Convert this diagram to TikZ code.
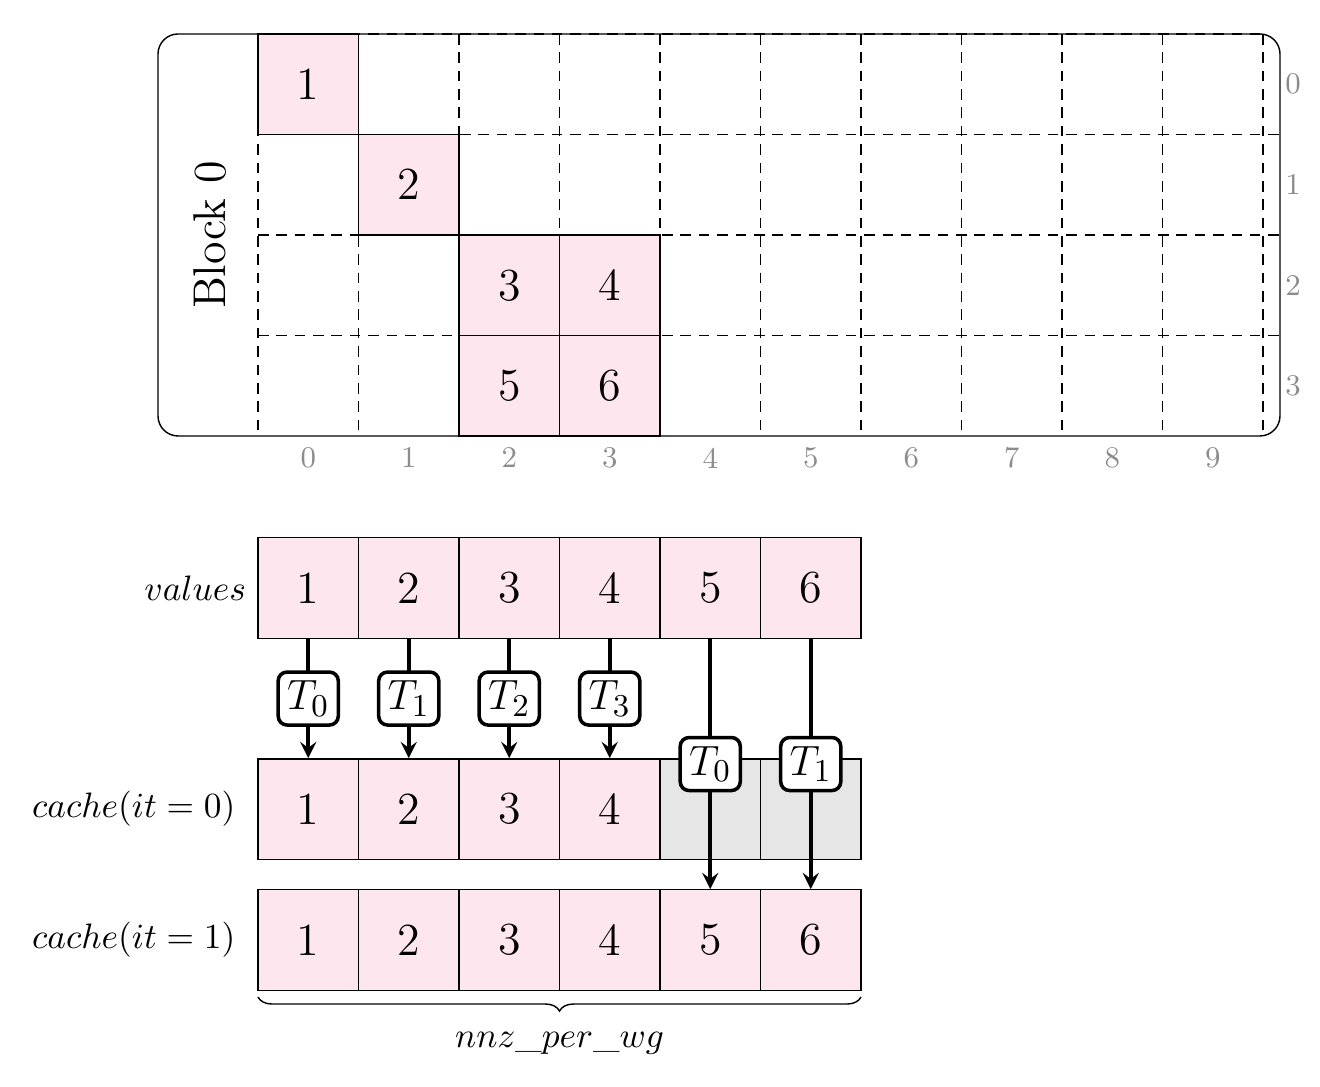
\documentclass[tikz,border=0pt]{standalone}
\usetikzlibrary{decorations.pathreplacing}
\definecolor{pk}{RGB}{253,230,237}
\definecolor{gy}{RGB}{230,230,230}
\definecolor{lb}{RGB}{140,140,140}
\begin{document}
\begin{tikzpicture}[x=1cm,y=1cm,
  cell/.style={draw,fill=pk,minimum size=1cm,inner sep=0pt,font=\fontsize{13}{15}\selectfont},
  gcell/.style={draw,fill=gy,minimum size=1cm,inner sep=0pt},
  idx/.style={text=lb,font=\fontsize{8.5}{10}\selectfont},
  rowlab/.style={anchor=east,font=\fontsize{10}{12}\selectfont},
  tlab/.style={draw,line width=1pt,rounded corners=2.5pt,fill=white,inner sep=2.5pt,font=\fontsize{12.5}{15}\selectfont},
  arr/.style={->,>=stealth,line width=1pt}]
\useasboundingbox (0,0) rectangle (13.134,-10.806);
\def\xo{2.567}\def\yo{-0.338}
% dashed grid
\foreach \i in {0,...,10} \draw[dash pattern=on 3pt off 2.2pt] (\xo+\i,\yo) -- (\xo+\i,\yo-4);
\foreach \j in {1,2,3} \draw[dash pattern=on 3pt off 2.2pt] (\xo,\yo-\j) -- (12.736,\yo-\j);
\draw[dash pattern=on 3pt off 2.2pt] (\xo,\yo) -- (12.6,\yo);
% pink cells
\node[cell] (m1) at (\xo+0.5,\yo-0.5) {1};
\node[cell] (m2) at (\xo+1.5,\yo-1.5) {2};
\node[cell] (m3) at (\xo+2.5,\yo-2.5) {3};
\node[cell] (m4) at (\xo+3.5,\yo-2.5) {4};
\node[cell] (m5) at (\xo+2.5,\yo-3.5) {5};
\node[cell] (m6) at (\xo+3.5,\yo-3.5) {6};
\draw[rounded corners=0.2cm] (1.572,\yo) rectangle (12.736,\yo-4);
\node[rotate=90,font=\fontsize{13}{15}\selectfont] (blk) at (2.09,-2.338) {Block 0};
\foreach \i in {0,...,9} \node[idx] (c\i) at (\xo+\i+0.5,-4.557) {\i};
\foreach \j in {0,...,3} \node[idx] (r\j) at (12.866,\yo-\j-0.5) {\j};
% arrays
\foreach \i in {1,...,6} {
  \node[cell] (v\i) at (\xo+\i-0.5,-5.851) {\i};
  \node[cell] (k\i) at (\xo+\i-0.5,-9.353) {\i};
}
\foreach \i in {1,...,4} \node[cell] (a\i) at (\xo+\i-0.5,-8.05) {\i};
\node[gcell] (a5) at (\xo+4.5,-8.05) {};
\node[gcell] (a6) at (\xo+5.5,-8.05) {};
\node[rowlab,inner sep=3pt] (lv) at (v1.west) {$values$};
\node[rowlab,inner sep=6pt] (la) at (a1.west) {$cache(it=0)$};
\node[rowlab,inner sep=6pt] (lk) at (k1.west) {$cache(it=1)$};
\foreach \i/\t in {1/0,2/1,3/2,4/3}
  \draw[arr] (v\i.south) -- node[tlab]{$T_\t$} (a\i.north);
\draw[arr] (v5.south) -- node[tlab]{$T_0$} (k5.north);
\draw[arr] (v6.south) -- node[tlab]{$T_1$} (k6.north);
\draw[decorate,decoration={brace,mirror,amplitude=0.14cm}] (\xo,-9.92) -- (\xo+6,-9.92);
\node[font=\fontsize{10}{12}\selectfont] (nz) at (\xo+3,-10.38) {$nnz\_per\_wg$};
\end{tikzpicture}
\end{document}
